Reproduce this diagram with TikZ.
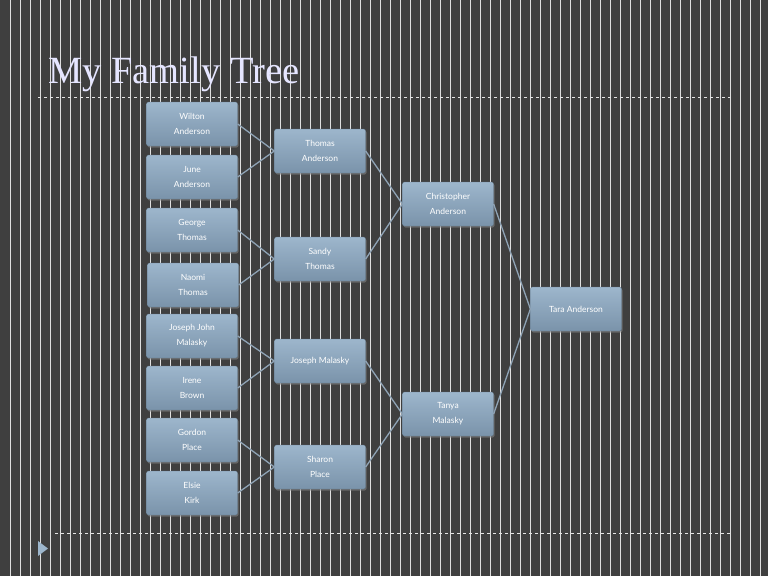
\documentclass[tikz,border=0pt]{standalone}
\usepackage{fontspec}
\setsansfont{Lato}
\newfontfamily\titlefont{Liberation Serif}
\usetikzlibrary{shadows}
\definecolor{bg}{HTML}{3F3F3F}
\definecolor{boxtop}{HTML}{9DB6CC}
\definecolor{boxbot}{HTML}{7A93AA}
\definecolor{lnk}{HTML}{8FA3B5}
\tikzset{
  pbox/.style={rounded corners=2pt, top color=boxtop, bottom color=boxbot, draw=boxbot!80!black, line width=0.3pt,
    minimum width=91pt, minimum height=44pt, align=center, text=white, font=\sffamily\fontsize{8.5}{15}\selectfont,
    drop shadow={shadow xshift=1pt,shadow yshift=-1.5pt,opacity=0.6}},
  link/.style={draw=lnk, line width=1.3pt}
}
\begin{document}
\begin{tikzpicture}[x=1pt,y=-1pt]
\useasboundingbox (0,0) rectangle (768,576);
\fill[bg] (0,0) rectangle (768,576);
\foreach \i in {0,...,75} {\draw[white!75!gray, line width=1pt] (10+\i*10,0) -- (10+\i*10,576);}
\node[anchor=base west, text=white!90!blue, font=\titlefont\fontsize{38.5}{38.5}\selectfont, inner sep=0pt] (title) at (48,83) {My Family Tree};
\draw[white!80!gray, dashed, line width=0.6pt] (38,97) -- (730,97);
\draw[white!80!gray, dashed, line width=0.6pt] (55,533) -- (730,533);
\fill[boxtop] (38,541) -- (48,548.5) -- (38,556) -- cycle;
\node[pbox] (a1) at (192,124) {Wilton\\Anderson};
\node[pbox] (a2) at (192,177) {June\\Anderson};
\node[pbox] (a3) at (192,230) {George\\Thomas};
\node[pbox] (a4) at (193,285) {Naomi\\Thomas};
\node[pbox] (a5) at (192,336) {Joseph John\\Malasky};
\node[pbox] (a6) at (192,388) {Irene\\Brown};
\node[pbox] (a7) at (192,440) {Gordon\\Place};
\node[pbox] (a8) at (192,493) {Elsie\\Kirk};
\node[pbox] (b1) at (320,151) {Thomas\\Anderson};
\node[pbox] (b2) at (320,259) {Sandy\\Thomas};
\node[pbox] (b3) at (320,361) {Joseph Malasky};
\node[pbox] (b4) at (320,467) {Sharon\\Place};
\node[pbox] (c1) at (448,204) {Christopher\\Anderson};
\node[pbox] (c2) at (448,414) {Tanya\\Malasky};
\node[pbox] (d1) at (576,309) {Tara Anderson};
\foreach \p/\c in {b1/a1,b1/a2,b2/a3,b2/a4,b3/a5,b3/a6,b4/a7,b4/a8,c1/b1,c1/b2,c2/b3,c2/b4,d1/c1,d1/c2}
  \draw[link] (\c.east) -- (\p.west);
\end{tikzpicture}
\end{document}
